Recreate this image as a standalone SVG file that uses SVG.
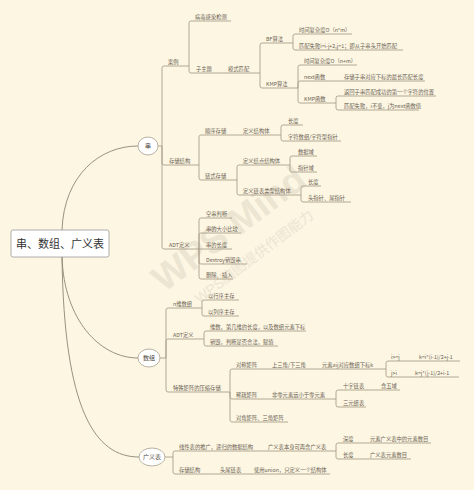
<svg xmlns="http://www.w3.org/2000/svg" width="474" height="490" viewBox="0 0 474 490">
<style>
.t{font-family:"Noto Sans CJK SC","Liberation Sans",sans-serif;font-size:5.3px;fill:#6b6152}
.u{fill:none;stroke:#a39882;stroke-width:0.8}
.c{fill:none;stroke:#a39882;stroke-width:0.8}
.r{fill:none;stroke:#8f8674;stroke-width:0.9}
.ct{font-family:"Noto Sans CJK SC","Liberation Sans",sans-serif;font-size:6px;fill:#4a4238;text-anchor:middle}
.wm{font-family:"Liberation Sans","Noto Sans CJK SC",sans-serif;fill:#ece5d2}
</style>
<rect width="474" height="490" fill="#fcf6e3"/>
<g id="watermark" transform="translate(164,293) rotate(-37)">
<text class="wm" x="0" y="0" font-size="37" font-weight="bold">WPS Mind</text>
<text class="wm" x="22" y="30" font-size="14">WPS脑图提供作图能力</text>
</g>
<g id="connectors">
<path class="r" d="M62,230 C64,175 100,146 138,146"/>
<path class="r" d="M62,257 C64,320 100,358 138,358"/>
<path class="r" d="M62,257 C64,410 95,457 139,457"/>
<path class="c" d="M158,146 H162 M162,146 V68 Q162,66 164,66 M162,146 V163 Q162,165 164,165 M162,146 V247 Q162,249 164,249"/>
<path class="c" d="M189,66 V23 Q189,21 191,21 M189,66 V71 Q189,73 191,73"/>
<path class="c" d="M260,73 V45 Q260,43 262,43 M260,73 V86 Q260,88 262,88"/>
<path class="c" d="M293,43 V36 Q293,34 295,34 M293,43 V48 Q293,50 295,50"/>
<path class="c" d="M298,88 V67 Q298,65 300,65 M298,88 V83 Q298,81 300,81 M298,88 V101 Q298,103 300,103"/>
<path class="c" d="M336,103 V98 Q336,96 338,96 M336,103 V108 Q336,110 338,110"/>
<path class="c" d="M199,165 V137 Q199,135 201,135 M199,165 V178 Q199,180 201,180"/>
<path class="c" d="M281,135 V127 Q281,125 283,125 M281,135 V139 Q281,141 283,141"/>
<path class="c" d="M237,180 V167 Q237,165 239,165 M237,180 V193 Q237,195 239,195"/>
<path class="c" d="M290,165 V158 Q290,156 292,156 M290,165 V170 Q290,172 292,172"/>
<path class="c" d="M301,195 V188 Q301,186 303,186 M301,195 V200 Q301,202 303,202"/>
<path class="c" d="M199,249 V220 Q199,218 201,218 M199,249 V235 Q199,233 201,233 M199,249 V262 Q199,264 201,264 M199,249 V277 Q199,279 201,279"/>
<path class="c" d="M160,358 H166 M166,358 V310 Q166,308 168,308 M166,358 V341 Q166,339 168,339 M166,358 V390 Q166,392 168,392"/>
<path class="c" d="M202,308 V302 Q202,300 204,300 M202,308 V314 Q202,316 204,316"/>
<path class="c" d="M204,339 V333 Q204,331 206,331 M204,339 V344 Q204,346 206,346"/>
<path class="c" d="M230,392 V371 Q230,369 232,369 M230,392 V397 Q230,399 232,399 M230,392 V420 Q230,422 232,422"/>
<path class="c" d="M386,369 V363 Q386,361 388,361 M386,369 V375 Q386,377 388,377"/>
<path class="c" d="M336,399 V392 Q336,390 338,390 M336,399 V405 Q336,407 338,407"/>
<path class="c" d="M165,457 H173 M173,457 V453 Q173,451 175,451 M173,457 V472 Q173,474 175,474"/>
<path class="c" d="M336,451 V445 Q336,443 338,443 M336,451 V457 Q336,459 338,459"/>
</g>
<g id="root"><rect x="11" y="230" width="98" height="27" rx="2" fill="#ffffff" stroke="#9a9a9a" stroke-width="0.8"/><text x="60" y="247.5" font-family="Noto Sans CJK SC, Liberation Sans, sans-serif" font-size="11" fill="#333333" text-anchor="middle">串、数组、广义表</text></g>
<g id="n-chuan"><ellipse cx="148" cy="146" rx="10" ry="9" fill="#ffffff" stroke="#a8a090" stroke-width="0.8"/><text class="ct" x="148" y="148.2">串</text></g>
<g id="n-anli"><text class="t" x="168" y="64">案例</text><path class="u" d="M164,66 H189"/></g>
<g id="n-bingdu"><text class="t" x="195" y="19">病毒感染检测</text><path class="u" d="M191,21 H231"/></g>
<g id="n-zizhuti"><text class="t" x="196" y="71">子主题</text><path class="u" d="M191,73 H215"/></g>
<g id="n-moshi"><text class="t" x="228" y="71">模式匹配</text><path class="u" d="M215,73 H260"/></g>
<g id="n-bf"><text class="t" x="266" y="41">BF算法</text><path class="u" d="M262,43 H293"/></g>
<g id="n-bf-time"><text class="t" x="299" y="32">时间复杂度O（n*m）</text><path class="u" d="M295,34 H352"/></g>
<g id="n-bf-fail"><text class="t" x="299" y="48">匹配失败i=i-j+2,j=1；即从子串头开始匹配</text><path class="u" d="M295,50 H403"/></g>
<g id="n-kmp"><text class="t" x="266" y="86">KMP算法</text><path class="u" d="M262,88 H298"/></g>
<g id="n-kmp-time"><text class="t" x="304" y="63">时间复杂度O（n+m）</text><path class="u" d="M300,65 H357"/></g>
<g id="n-next"><text class="t" x="304" y="79">next函数</text><path class="u" d="M300,81 H336"/></g>
<g id="n-next-d"><text class="t" x="344" y="79">存储子串对应下标的最长匹配长度</text><path class="u" d="M336,81 H425"/></g>
<g id="n-kmpf"><text class="t" x="304" y="101">KMP函数</text><path class="u" d="M300,103 H336"/></g>
<g id="n-kmpf-1"><text class="t" x="344" y="94">返回子串匹配成功的第一个字符的位置</text><path class="u" d="M338,96 H436"/></g>
<g id="n-kmpf-2"><text class="t" x="344" y="108">匹配失败，i不变，j为next函数值</text><path class="u" d="M338,110 H419"/></g>
<g id="n-cunchu"><text class="t" x="169" y="163">存储结构</text><path class="u" d="M164,165 H199"/></g>
<g id="n-shunxu"><text class="t" x="205" y="133">顺序存储</text><path class="u" d="M201,135 H237"/></g>
<g id="n-dingyi1"><text class="t" x="243" y="133">定义结构体</text><path class="u" d="M237,135 H281"/></g>
<g id="n-changdu1"><text class="t" x="288" y="123">长度</text><path class="u" d="M283,125 H303"/></g>
<g id="n-zifu"><text class="t" x="288" y="139">字符数组/字符型指针</text><path class="u" d="M283,141 H341"/></g>
<g id="n-lianshi"><text class="t" x="205" y="178">链式存储</text><path class="u" d="M201,180 H237"/></g>
<g id="n-jiedian"><text class="t" x="243" y="163">定义结点结构体</text><path class="u" d="M239,165 H290"/></g>
<g id="n-shuju"><text class="t" x="298" y="154">数据域</text><path class="u" d="M292,156 H317"/></g>
<g id="n-zhizhen"><text class="t" x="298" y="170">指针域</text><path class="u" d="M292,172 H317"/></g>
<g id="n-lianbiao"><text class="t" x="243" y="193">定义链表类型结构体</text><path class="u" d="M239,195 H301"/></g>
<g id="n-changdu2"><text class="t" x="308" y="184">长度</text><path class="u" d="M303,186 H321"/></g>
<g id="n-touwei"><text class="t" x="308" y="200">头指针、尾指针</text><path class="u" d="M303,202 H351"/></g>
<g id="n-adt1"><text class="t" x="169" y="247">ADT定义</text><path class="u" d="M164,249 H199"/></g>
<g id="n-kong"><text class="t" x="206" y="216">空串判断</text><path class="u" d="M201,218 H232"/></g>
<g id="n-bijiao"><text class="t" x="206" y="231">串的大小比较</text><path class="u" d="M201,233 H241"/></g>
<g id="n-chang"><text class="t" x="206" y="247">串的长度</text><path class="u" d="M199,249 H232"/></g>
<g id="n-destroy"><text class="t" x="206" y="262">Destroy销毁串</text><path class="u" d="M201,264 H247"/></g>
<g id="n-shanchu"><text class="t" x="206" y="277">删除、插入</text><path class="u" d="M201,279 H233"/></g>
<g id="n-shuzu"><ellipse cx="149" cy="358" rx="11" ry="9" fill="#ffffff" stroke="#a8a090" stroke-width="0.8"/><text class="ct" x="149" y="360.2">数组</text></g>
<g id="n-nwei"><text class="t" x="173" y="306">n维数组</text><path class="u" d="M168,308 H202"/></g>
<g id="n-hang"><text class="t" x="208" y="298">以行序主存</text><path class="u" d="M204,300 H239"/></g>
<g id="n-lie"><text class="t" x="208" y="314">以列序主存</text><path class="u" d="M204,316 H239"/></g>
<g id="n-adt2"><text class="t" x="173" y="337">ADT定义</text><path class="u" d="M168,339 H204"/></g>
<g id="n-weishu"><text class="t" x="210" y="329">维数，第几维的长度，以及数组元素下标</text><path class="u" d="M206,331 H306"/></g>
<g id="n-xiaohui"><text class="t" x="210" y="344">销毁，判断是否合法，赋值</text><path class="u" d="M206,346 H278"/></g>
<g id="n-teshu"><text class="t" x="173" y="390">特殊矩阵的压缩存储</text><path class="u" d="M168,392 H230"/></g>
<g id="n-duichen"><text class="t" x="236" y="367">对称矩阵</text><path class="u" d="M232,369 H266"/></g>
<g id="n-sanjiao"><text class="t" x="272" y="367">上三角/下三角</text><path class="u" d="M266,369 H316"/></g>
<g id="n-aij"><text class="t" x="322" y="367">元素aij对应数组下标k</text><path class="u" d="M316,369 H386"/></g>
<g id="n-ij1"><text class="t" x="391" y="359">i&gt;=j</text><path class="u" d="M388,361 H411"/></g>
<g id="n-k1"><text class="t" x="419" y="359">k=i*(i-1)/2+j-1</text><path class="u" d="M411,361 H460"/></g>
<g id="n-ij2"><text class="t" x="391" y="375">j&gt;i</text><path class="u" d="M388,377 H411"/></g>
<g id="n-k2"><text class="t" x="415" y="375">k=j*(j-1)/2+i-1</text><path class="u" d="M411,377 H459"/></g>
<g id="n-xishu"><text class="t" x="236" y="397">稀疏矩阵</text><path class="u" d="M232,399 H266"/></g>
<g id="n-feiling"><text class="t" x="272" y="397">非零元素远小于零元素</text><path class="u" d="M266,399 H336"/></g>
<g id="n-shizi"><text class="t" x="343" y="388">十字链表</text><path class="u" d="M338,390 H375"/></g>
<g id="n-wuyu"><text class="t" x="381" y="388">含五域</text><path class="u" d="M375,390 H400"/></g>
<g id="n-sanyuan"><text class="t" x="343" y="405">三元组表</text><path class="u" d="M338,407 H366"/></g>
<g id="n-duijiao"><text class="t" x="236" y="420">对角矩阵、三角矩阵</text><path class="u" d="M232,422 H288"/></g>
<g id="n-guangyi"><ellipse cx="152" cy="457" rx="13" ry="9" fill="#ffffff" stroke="#a8a090" stroke-width="0.8"/><text class="ct" x="152" y="459.2">广义表</text></g>
<g id="n-xianxing"><text class="t" x="179" y="449">线性表的推广，递归的数据结构</text><path class="u" d="M175,451 H262"/></g>
<g id="n-benshen"><text class="t" x="268" y="449">广义表本身可再含广义表</text><path class="u" d="M262,451 H336"/></g>
<g id="n-shendu"><text class="t" x="343" y="441">深度</text><path class="u" d="M338,443 H362"/></g>
<g id="n-shendu-d"><text class="t" x="370" y="441">元素广义表中的元素数目</text><path class="u" d="M362,443 H431"/></g>
<g id="n-changdu3"><text class="t" x="343" y="457">长度</text><path class="u" d="M338,459 H362"/></g>
<g id="n-changdu3-d"><text class="t" x="370" y="457">广义表元素数目</text><path class="u" d="M362,459 H411"/></g>
<g id="n-cunchu2"><text class="t" x="179" y="472">存储结构</text><path class="u" d="M175,474 H214"/></g>
<g id="n-touwei2"><text class="t" x="220" y="472">头尾链表</text><path class="u" d="M214,474 H248"/></g>
<g id="n-union"><text class="t" x="254" y="472">使用union，只定义一个结构体</text><path class="u" d="M248,474 H330"/></g>
</svg>
